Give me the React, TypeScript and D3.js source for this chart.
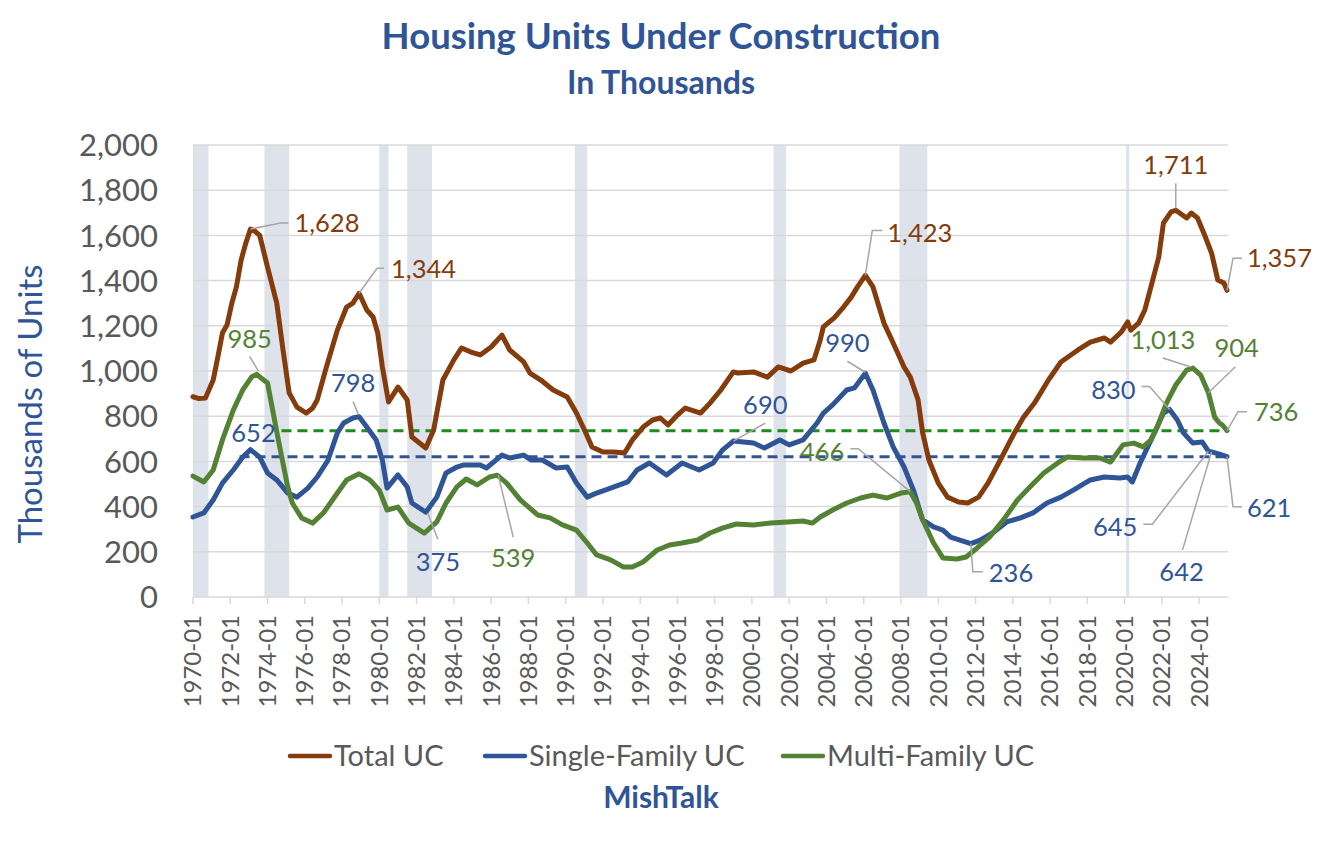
import React from "react";
import * as d3 from "d3";

// ---- data (thousands of units, monthly readings) ----
const totalUC: [string, number][] = [
  ["1970-01", 886], ["1970-05", 878], ["1970-09", 880], ["1971-02", 960], ["1971-05", 1060],
  ["1971-08", 1168], ["1971-11", 1205], ["1972-02", 1300], ["1972-05", 1372], ["1972-08", 1490],
  ["1972-11", 1566], ["1973-02", 1628], ["1973-05", 1618], ["1973-08", 1600], ["1974-01", 1460],
  ["1974-07", 1300], ["1974-11", 1093], ["1975-03", 903], ["1975-08", 840], ["1976-02", 814],
  ["1976-06", 835], ["1976-09", 872], ["1977-03", 1018], ["1977-10", 1181], ["1978-04", 1283],
  ["1978-08", 1300], ["1978-12", 1344], ["1979-05", 1270], ["1979-09", 1239], ["1979-12", 1168],
  ["1980-03", 1018], ["1980-07", 863], ["1981-01", 929], ["1981-07", 872], ["1981-10", 708],
  ["1982-07", 659], ["1982-12", 739], ["1983-06", 960], ["1984-01", 1049], ["1984-06", 1102],
  ["1984-12", 1084], ["1985-06", 1071], ["1986-01", 1106], ["1986-08", 1159], ["1987-01", 1093],
  ["1987-10", 1040], ["1988-02", 991], ["1988-09", 960], ["1989-05", 916], ["1990-02", 885],
  ["1990-08", 814], ["1991-02", 726], ["1991-06", 664], ["1992-01", 642], ["1992-08", 642],
  ["1993-03", 637], ["1993-08", 695], ["1994-03", 752], ["1994-09", 783], ["1995-02", 792],
  ["1995-07", 761], ["1996-01", 805], ["1996-06", 836], ["1997-04", 814], ["1997-10", 858],
  ["1998-05", 916], ["1999-01", 996], ["1999-04", 991], ["2000-02", 996], ["2000-11", 973],
  ["2001-06", 1018], ["2002-02", 1000], ["2002-10", 1035], ["2003-05", 1049], ["2003-09", 1137],
  ["2003-11", 1195], ["2004-06", 1235], ["2004-12", 1283], ["2005-05", 1327], ["2005-09", 1372],
  ["2006-02", 1423], ["2006-07", 1372], ["2007-02", 1212], ["2007-08", 1124], ["2008-03", 1018],
  ["2008-07", 973], ["2008-12", 872], ["2009-03", 726], ["2009-07", 606], ["2010-01", 504],
  ["2010-07", 442], ["2011-02", 420], ["2011-08", 416], ["2012-03", 442], ["2012-09", 504],
  ["2013-05", 606], ["2014-02", 726], ["2014-08", 796], ["2015-03", 858], ["2015-12", 960],
  ["2016-08", 1040], ["2017-07", 1093], ["2018-03", 1128], ["2018-12", 1146], ["2019-04", 1128],
  ["2019-11", 1173], ["2020-03", 1217], ["2020-05", 1181], ["2020-10", 1212], ["2021-02", 1270],
  ["2021-06", 1372], ["2021-11", 1504], ["2022-02", 1655], ["2022-07", 1704], ["2022-10", 1711],
  ["2023-05", 1677], ["2023-08", 1699], ["2023-12", 1677], ["2024-04", 1611], ["2024-09", 1522],
  ["2025-01", 1403], ["2025-05", 1389], ["2025-07", 1357],
];

const singleUC: [string, number][] = [
  ["1970-01", 354], ["1970-08", 372], ["1971-02", 429], ["1971-08", 504], ["1972-03", 562],
  ["1972-09", 619], ["1973-02", 652], ["1973-08", 619], ["1974-01", 549], ["1974-07", 518],
  ["1975-02", 460], ["1975-08", 442], ["1976-03", 482], ["1976-09", 531], ["1977-04", 606],
  ["1977-10", 726], ["1978-02", 770], ["1978-08", 792], ["1978-12", 798], ["1979-05", 752],
  ["1979-11", 695], ["1980-03", 606], ["1980-06", 482], ["1981-01", 540], ["1981-07", 487],
  ["1981-10", 416], ["1982-07", 375], ["1983-02", 442], ["1983-08", 549], ["1984-03", 575],
  ["1984-07", 584], ["1985-06", 584], ["1985-10", 571], ["1986-08", 628], ["1987-01", 615],
  ["1987-10", 628], ["1988-03", 606], ["1988-10", 606], ["1989-07", 571], ["1990-02", 575],
  ["1990-08", 504], ["1991-03", 442], ["1991-09", 460], ["1992-06", 482], ["1993-05", 509],
  ["1993-11", 562], ["1994-07", 593], ["1995-06", 540], ["1996-04", 593], ["1997-03", 562],
  ["1997-12", 593], ["1998-06", 650], ["1999-01", 690], ["2000-02", 681], ["2000-09", 659],
  ["2001-07", 695], ["2002-01", 673], ["2002-10", 695], ["2003-07", 770], ["2003-11", 814],
  ["2004-05", 850], ["2005-02", 916], ["2005-07", 925], ["2006-02", 990], ["2006-07", 916],
  ["2007-02", 770], ["2007-08", 664], ["2008-03", 575], ["2008-09", 473], ["2009-03", 341],
  ["2009-10", 310], ["2010-04", 296], ["2010-09", 265], ["2011-03", 252], ["2011-10", 236],
  ["2012-04", 252], ["2013-01", 288], ["2013-09", 332], ["2014-06", 350], ["2015-02", 372],
  ["2015-11", 416], ["2016-08", 442], ["2017-04", 473], ["2018-03", 518], ["2018-12", 531],
  ["2019-10", 527], ["2020-03", 531], ["2020-06", 509], ["2020-11", 593], ["2021-03", 650],
  ["2021-10", 752], ["2022-02", 814], ["2022-06", 830], ["2022-11", 783], ["2023-03", 726],
  ["2023-09", 681], ["2024-03", 686], ["2024-07", 645], ["2024-09", 642], ["2025-02", 632],
  ["2025-07", 621],
];

const multiUC: [string, number][] = [
  ["1970-01", 535], ["1970-08", 509], ["1971-02", 562], ["1971-08", 695], ["1972-03", 827],
  ["1972-09", 916], ["1973-03", 975], ["1973-06", 985], ["1974-01", 947], ["1974-04", 840],
  ["1974-08", 695], ["1975-02", 487], ["1975-05", 416], ["1975-11", 350], ["1976-06", 327],
  ["1977-01", 372], ["1977-10", 460], ["1978-04", 518], ["1978-12", 545], ["1979-07", 518],
  ["1980-01", 473], ["1980-06", 385], ["1981-01", 398], ["1981-08", 327], ["1982-06", 283],
  ["1983-02", 332], ["1983-08", 416], ["1984-03", 487], ["1984-09", 522], ["1985-04", 496],
  ["1985-12", 531], ["1986-05", 539], ["1986-11", 504], ["1987-08", 429], ["1988-07", 363],
  ["1989-03", 350], ["1989-11", 319], ["1990-08", 296], ["1991-03", 239], ["1991-09", 186],
  ["1992-06", 164], ["1993-02", 133], ["1993-08", 133], ["1994-03", 155], ["1994-12", 208],
  ["1995-08", 230], ["1996-04", 239], ["1997-02", 252], ["1997-10", 283], ["1998-06", 305],
  ["1999-03", 323], ["2000-02", 319], ["2001-01", 327], ["2001-12", 332], ["2002-10", 336],
  ["2003-04", 327], ["2003-09", 354], ["2004-05", 385], ["2005-02", 416], ["2005-11", 438],
  ["2006-07", 451], ["2007-04", 438], ["2008-01", 460], ["2008-07", 466], ["2008-11", 416],
  ["2009-03", 341], ["2009-10", 239], ["2010-04", 173], ["2011-01", 168], ["2011-07", 177],
  ["2012-02", 217], ["2012-10", 265], ["2013-07", 341], ["2014-04", 429], ["2014-12", 487],
  ["2015-09", 549], ["2016-06", 593], ["2016-12", 619], ["2017-10", 615], ["2018-09", 615],
  ["2019-04", 597], ["2019-12", 673], ["2020-07", 681], ["2021-01", 664], ["2021-06", 695],
  ["2021-10", 752], ["2022-04", 858], ["2022-10", 938], ["2023-05", 1004], ["2023-09", 1013],
  ["2024-02", 982], ["2024-07", 904], ["2024-11", 796], ["2025-02", 770], ["2025-04", 761],
  ["2025-07", 736],
];

// NBER recessions (start, end)
const recessions: [string, string][] = [
  ["1969-12", "1970-11"], ["1973-11", "1975-03"], ["1980-01", "1980-07"], ["1981-07", "1982-11"],
  ["1990-07", "1991-03"], ["2001-03", "2001-11"], ["2007-12", "2009-06"], ["2020-02", "2020-04"],
];

const yTicks = [0, 200, 400, 600, 800, 1000, 1200, 1400, 1600, 1800, 2000];
const xTickYears = d3.range(1970, 2025, 2);

// current-level reference lines
const refLines = [
  { key: "multi", value: 736, from: "1974-10" },
  { key: "single", value: 621, from: "1972-07" },
];

const callouts = [
  { key: "total", date: "1973-02", value: 1628 },
  { key: "total", date: "1978-12", value: 1344 },
  { key: "multi", date: "1973-06", value: 985 },
  { key: "single", date: "1973-02", value: 652 },
  { key: "single", date: "1978-12", value: 798 },
  { key: "single", date: "1982-07", value: 375 },
  { key: "multi", date: "1986-05", value: 539 },
  { key: "single", date: "1999-01", value: 690 },
  { key: "multi", date: "2008-07", value: 466 },
  { key: "single", date: "2006-02", value: 990 },
  { key: "total", date: "2006-02", value: 1423 },
  { key: "single", date: "2011-10", value: 236 },
  { key: "total", date: "2022-10", value: 1711 },
  { key: "multi", date: "2023-09", value: 1013 },
  { key: "multi", date: "2024-07", value: 904 },
  { key: "multi", date: "2025-07", value: 736 },
  { key: "total", date: "2025-07", value: 1357 },
  { key: "single", date: "2025-07", value: 621 },
  { key: "single", date: "2022-06", value: 830 },
  { key: "single", date: "2024-07", value: 645 },
  { key: "single", date: "2024-09", value: 642 },
];

// label placement for each callout: leader polyline offsets and text offset from the point
const calloutLayout: { leader: [number, number][]; label: [number, number]; anchor: string }[] = [
  { leader: [[0, 0], [30, -6], [38, -6]], label: [44, -6], anchor: "start" },
  { leader: [[0, 0], [18, -25], [25, -25]], label: [32, -24], anchor: "start" },
  { leader: [[2, -3], [-7, -18]], label: [-7, -36], anchor: "middle" },
  { leader: [], label: [3, -17], anchor: "middle" },
  { leader: [[-1, -3], [-6, -15]], label: [-6, -34], anchor: "middle" },
  { leader: [[2, 1], [12, 27]], label: [12, 50], anchor: "middle" },
  { leader: [[1, 0], [16, 62]], label: [16, 83], anchor: "middle" },
  { leader: [[0, 0], [32, -18]], label: [32, -36], anchor: "middle" },
  { leader: [[0, 0], [-52, -43], [-60, -43]], label: [-66, -40], anchor: "end" },
  { leader: [[0, -1], [-18, -12]], label: [-18, -30], anchor: "middle" },
  { leader: [[0, 0], [7, -45], [17, -45]], label: [22, -43], anchor: "start" },
  { leader: [[0, 0], [2, 28], [12, 28]], label: [18, 29], anchor: "start" },
  { leader: [[0, -2], [0, -27]], label: [0, -45], anchor: "middle" },
  { leader: [[-2, -1], [-30, -10]], label: [-30, -28], anchor: "middle" },
  { leader: [[0, 0], [27, -26]], label: [6, -45], anchor: "start" },
  { leader: [[0, 0], [11, -19], [20, -19]], label: [27, -19], anchor: "start" },
  { leader: [[0, 0], [6, -32], [15, -32]], label: [20, -32], anchor: "start" },
  { leader: [[0, 0], [6, 50], [15, 50]], label: [20, 51], anchor: "start" },
  { leader: [[0, 0], [-20, -23], [-28, -23]], label: [-34, -20], anchor: "end" },
  { leader: [[0, 0], [-56, 73], [-65, 73]], label: [-71, 76], anchor: "end" },
  { leader: [[0, 0], [-29, 98]], label: [-30, 120], anchor: "middle" },
];

const colors: Record<string, string> = {
  total: "#843c0c",
  single: "#2f5597",
  multi: "#548235",
};
const refColors: Record<string, string> = { multi: "#1f8a1f", single: "#2f5597" };

const seriesList = [
  { key: "total", name: "Total UC", data: totalUC },
  { key: "single", name: "Single-Family UC", data: singleUC },
  { key: "multi", name: "Multi-Family UC", data: multiUC },
];

const FONT = "Lato, 'Open Sans', sans-serif";

export default function App() {
  const width = 1321;
  const height = 852;
  const plot = { left: 193, right: 1227, top: 145, bottom: 597 };

  const parse = d3.timeParse("%Y-%m");
  const xScale = d3
    .scaleTime()
    .domain([parse("1970-01")!, parse("2025-07")!])
    .range([plot.left, plot.right]);
  const yScale = d3.scaleLinear().domain([0, 2000]).range([plot.bottom, plot.top]);

  const line = d3
    .line<[string, number]>()
    .x((d) => xScale(parse(d[0])!))
    .y((d) => yScale(d[1]));

  const lastDate = parse("2025-07")!;
  const fmt = d3.format(",");

  // legend swatch / text positions
  const legend = [
    { key: "total", x: 290, text: "Total UC" },
    { key: "single", x: 485, text: "Single-Family UC" },
    { key: "multi", x: 783, text: "Multi-Family UC" },
  ];

  return (
    <svg
      width={width}
      height={height}
      style={{ position: "absolute", left: 0, top: 0, background: "#fff" }}
      fontFamily={FONT}
    >
      <rect width={width} height={height} fill="#fff" />

      {/* titles */}
      <text x={661} y={49} textAnchor="middle" fontSize={36.5} fontWeight={700} fill="#2f5597">
        Housing Units Under Construction
      </text>
      <text x={661} y={94} textAnchor="middle" fontSize={32} fontWeight={700} fill="#2f5597">
        In Thousands
      </text>

      {/* recession shading */}
      {recessions.map(([s, e], i) => {
        const x0 = Math.max(plot.left, xScale(parse(s)!));
        const x1 = Math.max(xScale(parse(e)!), x0 + 3);
        return (
          <rect
            key={i}
            x={x0}
            y={plot.top}
            width={x1 - x0}
            height={plot.bottom - plot.top}
            fill="#dee3eb"
          />
        );
      })}

      {/* gridlines + y labels */}
      {yTicks.map((t) => (
        <g key={t}>
          {t > 0 && (
            <line
              x1={plot.left}
              x2={plot.right + 1}
              y1={yScale(t)}
              y2={yScale(t)}
              stroke="#d9d9d9"
              strokeWidth={1.5}
            />
          )}
          <text
            x={158}
            y={yScale(t)}
            dy="0.36em"
            textAnchor="end"
            fontSize={31}
            fill="#595959"
          >
            {fmt(t)}
          </text>
        </g>
      ))}

      {/* x axis */}
      <line
        x1={plot.left}
        x2={plot.right + 1}
        y1={plot.bottom}
        y2={plot.bottom}
        stroke="#d9d9d9"
        strokeWidth={1.5}
      />
      {xTickYears.map((yr) => {
        const xx = xScale(parse(`${yr}-01`)!);
        return (
          <g key={yr}>
            <line x1={xx} x2={xx} y1={plot.bottom} y2={plot.bottom + 7} stroke="#d9d9d9" strokeWidth={1.5} />
            <text
              transform={`translate(${xx},${615}) rotate(-90)`}
              dy="0.35em"
              textAnchor="end"
              fontSize={24}
              fill="#595959"
            >
              {`${yr}-01`}
            </text>
          </g>
        );
      })}

      {/* y axis title */}
      <text
        transform="translate(30,404) rotate(-90)"
        dy="0.35em"
        textAnchor="middle"
        fontSize={33}
        fill="#2f5597"
      >
        Thousands of Units
      </text>

      {/* reference lines at the latest levels */}
      {refLines.map((r) => (
        <line
          key={r.key}
          x1={xScale(parse(r.from)!)}
          x2={xScale(lastDate)}
          y1={yScale(r.value)}
          y2={yScale(r.value)}
          stroke={refColors[r.key]}
          strokeWidth={3}
          strokeDasharray="10,6"
        />
      ))}

      {/* series */}
      {seriesList.map((s) => (
        <path
          key={s.key}
          d={line(s.data) || ""}
          fill="none"
          stroke={colors[s.key]}
          strokeWidth={5}
          strokeLinejoin="round"
          strokeLinecap="round"
        />
      ))}

      {/* callouts */}
      {callouts.map((c, i) => {
        const px = xScale(parse(c.date)!);
        const py = yScale(c.value);
        const lay = calloutLayout[i];
        const pts = lay.leader.map(([dx, dy]) => [px + dx, py + dy] as [number, number]);
        return (
          <g key={i}>
            {pts.length > 1 && (
              <path
                d={d3.line()(pts) || ""}
                fill="none"
                stroke="#a6a6a6"
                strokeWidth={1.5}
              />
            )}
            <text
              x={px + lay.label[0]}
              y={py + lay.label[1]}
              dy="0.36em"
              textAnchor={lay.anchor}
              fontSize={25.5}
              fill={colors[c.key]}
            >
              {fmt(c.value)}
            </text>
          </g>
        );
      })}

      {/* legend */}
      {legend.map((l) => (
        <g key={l.key}>
          <line
            x1={l.x}
            x2={l.x + 40}
            y1={756}
            y2={756}
            stroke={colors[l.key]}
            strokeWidth={4.5}
            strokeLinecap="round"
          />
          <text x={l.x + 44} y={756} dy="0.36em" fontSize={29} fill="#595959">
            {l.text}
          </text>
        </g>
      ))}
      <text x={661} y={797} dy="0.36em" textAnchor="middle" fontSize={30} fontWeight={700} fill="#2f5597">
        MishTalk
      </text>
    </svg>
  );
}
